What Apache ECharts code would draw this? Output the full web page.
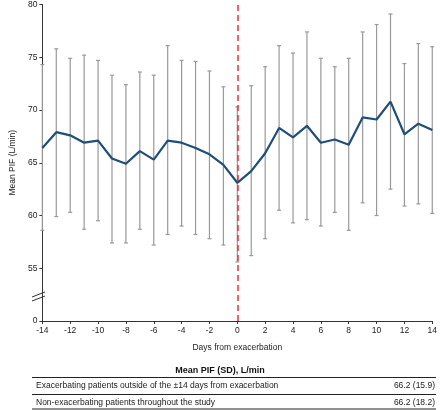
<!DOCTYPE html>
<html>
<head>
<meta charset="utf-8">
<script src="https://cdn.jsdelivr.net/npm/echarts@6/dist/echarts.min.js"></script>
<style>html,body{margin:0;padding:0;background:#fff}#chart{width:440px;height:410px}</style>
</head>
<body>
<div id="chart"></div>
<script>
const days = [-14,-13,-12,-11,-10,-9,-8,-7,-6,-5,-4,-3,-2,-1,0,1,2,3,4,5,6,7,8,9,10,11,12,13,14];
const means = [66.4,67.9,67.6,66.9,67.1,65.4,64.9,66.1,65.3,67.1,66.9,66.4,65.8,64.8,63.1,64.2,65.9,68.3,67.4,68.5,66.9,67.2,66.7,69.3,69.1,70.8,67.7,68.7,68.1];
const upper = [74.3,75.8,74.9,75.2,74.7,73.3,72.4,73.6,73.3,76.1,74.7,74.6,73.7,72.2,70.3,72.3,74.1,76.1,75.4,77.4,74.9,74.1,74.9,77.4,78.1,79.1,74.4,76.3,76.0];
const lower = [58.6,59.9,60.3,58.7,59.5,57.4,57.4,58.7,57.2,58.2,59.0,58.2,57.8,57.2,55.6,56.2,57.8,60.5,59.3,59.6,59.0,60.3,58.6,61.2,60.0,62.5,60.9,61.1,60.2];
const tableTitle = 'Mean PIF (SD), L/min';
const tableRows = [
  ['Exacerbating patients outside of the \u00b114 days from exacerbation', '66.2 (15.9)'],
  ['Non-exacerbating patients throughout the study', '66.2 (18.2)']
];

const font = 'Liberation Sans, Arial, sans-serif';
const chart = echarts.init(document.getElementById('chart'));

const graphics = [
  // axis break marks
  {type:'rect', shape:{x:35,y:294,width:6,height:4}, style:{fill:'#fff'}, z:10},
  {type:'line', shape:{x1:32,y1:297,x2:45,y2:292}, style:{stroke:'#333',lineWidth:1}, z:11},
  {type:'line', shape:{x1:32,y1:301,x2:45,y2:296}, style:{stroke:'#333',lineWidth:1}, z:11},
  {type:'text', left:'center', top:366, style:{text:tableTitle, font:'bold 9px ' + font, fill:'#111'}},
  {type:'line', shape:{x1:32,y1:377.5,x2:436,y2:377.5}, style:{stroke:'#222',lineWidth:1}},
  {type:'line', shape:{x1:32,y1:394.5,x2:436,y2:394.5}, style:{stroke:'#222',lineWidth:1}},
  {type:'line', shape:{x1:32,y1:409,x2:436,y2:409}, style:{stroke:'#222',lineWidth:1}}
];
tableRows.forEach((r, i) => {
  const y = 381 + i * 17;
  graphics.push({type:'text', left:36, top:y, style:{text:r[0], font:'8.5px ' + font, fill:'#222'}});
  graphics.push({type:'text', right:5, top:y, style:{text:r[1], font:'8.5px ' + font, fill:'#222', align:'right'}});
});

chart.setOption({
  animation: false,
  grid: {left: 38, right: 5, top: 3, bottom: 89},
  xAxis: {
    type: 'value', min: -14, max: 14, interval: 2,
    name: 'Days from exacerbation', nameLocation: 'middle', nameGap: 22,
    nameTextStyle: {fontFamily: font, fontSize: 8.5, color: '#222'},
    axisLine: {onZero: false, lineStyle: {color: '#333'}},
    axisTick: {length: 3, lineStyle: {color: '#333'}},
    axisLabel: {fontFamily: font, fontSize: 8.5, color: '#222', margin: 5},
    splitLine: {show: false}
  },
  yAxis: {
    type: 'value', min: 50, max: 80, interval: 5,
    name: 'Mean PIF (L/min)', nameLocation: 'middle', nameGap: 25,
    nameTextStyle: {fontFamily: font, fontSize: 8.5, color: '#222'},
    axisLine: {show: true, onZero: false, lineStyle: {color: '#333'}},
    axisTick: {show: true, length: 3, lineStyle: {color: '#333'}},
    axisLabel: {fontFamily: font, fontSize: 8.5, color: '#222', margin: 5,
      formatter: v => v === 50 ? '0' : String(v)},
    splitLine: {show: false}
  },
  graphic: graphics,
  series: [
    {
      type: 'custom',
      data: days.map((d, i) => [d, lower[i], upper[i]]),
      renderItem: (params, api) => {
        const lo = api.coord([api.value(0), api.value(1)]);
        const hi = api.coord([api.value(0), api.value(2)]);
        const st = {stroke: '#999', lineWidth: 1.2};
        return {type: 'group', children: [
          {type: 'line', shape: {x1: lo[0], y1: lo[1], x2: hi[0], y2: hi[1]}, style: st},
          {type: 'line', shape: {x1: lo[0]-2, y1: lo[1], x2: lo[0]+2, y2: lo[1]}, style: st},
          {type: 'line', shape: {x1: hi[0]-2, y1: hi[1], x2: hi[0]+2, y2: hi[1]}, style: st}
        ]};
      },
      z: 1
    },
    {
      type: 'line',
      data: days.map((d, i) => [d, means[i]]),
      symbol: 'none',
      lineStyle: {color: '#1f4e79', width: 2.2},
      z: 3,
      markLine: {
        silent: true, symbol: 'none', label: {show: false},
        lineStyle: {color: '#e8323a', type: [6, 4], width: 1.5},
        data: [{xAxis: 0}]
      }
    }
  ]
});
</script>
</body>
</html>
